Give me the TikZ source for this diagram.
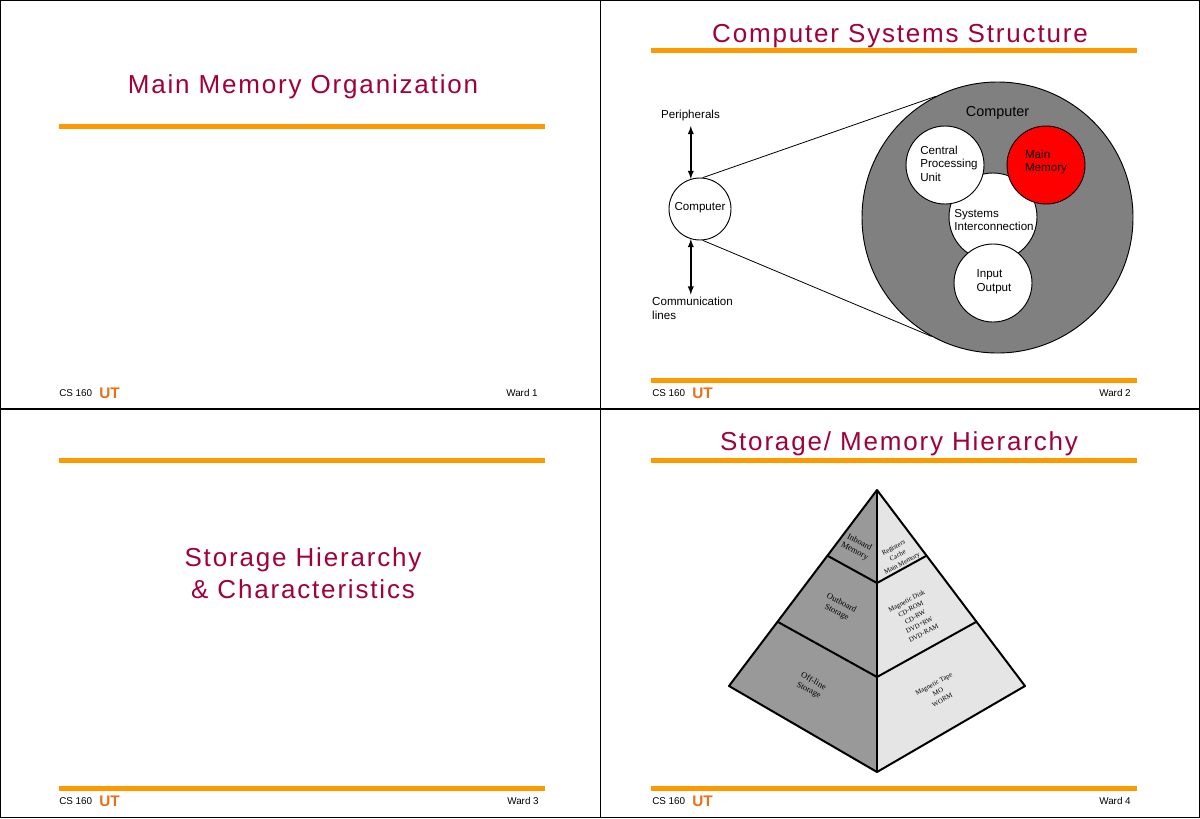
\documentclass[tikz,border=0pt]{standalone}
\usepackage{fontspec}
\setmainfont{Liberation Sans}
\newfontfamily\titlefont[LetterSpace=7]{Liberation Sans}
\newfontfamily\pyrfont{Liberation Serif}
\usepackage{xcolor}
\definecolor{titlered}{HTML}{A0003C}
\definecolor{barorange}{HTML}{FF9900}
\definecolor{logoorange}{HTML}{E8701A}
\tikzset{
  slidetitle/.style={font=\titlefont\fontsize{19.5}{24}\selectfont, text=titlered, align=center, inner sep=0pt},
  bar/.style={fill=barorange, draw=none},
  foot/.style={font=\fontsize{7.4}{9}\selectfont, inner sep=0pt},
  logo/.style={font=\bfseries\fontsize{11.5}{12}\selectfont, text=logoorange, inner sep=0pt},
  lab/.style={font=\fontsize{8.7}{10.2}\selectfont, align=left, inner sep=0pt},
  disc/.style={circle, draw, fill=white, line width=0.7pt, inner sep=0pt},
  pyrl/.style={font=\pyrfont\fontsize{6.4}{7.6}\selectfont, align=center, inner sep=0pt, rotate=-28},
  pyrr/.style={font=\pyrfont\fontsize{5.1}{6.8}\selectfont, align=center, inner sep=0pt, rotate=28},
  pyrline/.style={line width=1.5pt, line join=round}
}
\begin{document}
\begin{tikzpicture}[x=0.75pt,y=-0.75pt]
\useasboundingbox (0,0) rectangle (1200,818);
\fill[white] (0,0) rectangle (1200,818);
% slide frames
\draw[line width=0.9pt] (0.5,0.5) rectangle (1199.5,817.5);
\draw[line width=0.9pt] (600.5,0) -- (600.5,818);
\draw[line width=0.9pt] (0,409) -- (1200,409);

% orange bars
\fill[bar] (59,124) rectangle (545,129);
\fill[bar] (651,48) rectangle (1137,53);
\fill[bar] (651,378) rectangle (1137,383);
\fill[bar] (59,458) rectangle (545,462.5);
\fill[bar] (59,786) rectangle (545,790.5);
\fill[bar] (651,457.5) rectangle (1137,462.5);
\fill[bar] (651,786) rectangle (1137,790.5);

% titles
\node[slidetitle] (titleone) at (303,87) {Main Memory Organization};
\node[slidetitle] (titletwo) at (900,36) {Computer Systems Structure};
\node[slidetitle] (titlethree) at (303,573) {Storage Hierarchy\\[0pt]\& Characteristics};
\node[slidetitle] (titlefour) at (899,444) {Storage/ Memory Hierarchy};

% footers
\foreach \n/\xa/\xb/\yf in {1/59/538/393, 2/652/1131/393, 3/59/539/801, 4/652/1131/801} {
  \node[foot, anchor=west] (cs\n) at (\xa,\yf) {CS 160};
  \node[logo, anchor=west] (ut\n) at (\xa+40,\yf) {UT};
  \node[foot, anchor=east] (ward\n) at (\xb,\yf) {Ward \n};
}

% computer structure
\node[disc, minimum size=203.25pt, fill=black!50] (bigc) at (997.5,217.5) {};
\node[disc, minimum size=46.5pt] (comp) at (700,209) {};
\node[disc, minimum size=66pt] (sysi) at (993,217) {};
\node[disc, minimum size=58.5pt] (cpu) at (945,165) {};
\node[disc, minimum size=58.5pt, fill=red] (mem) at (1046,165) {};
\node[disc, minimum size=58.5pt] (inout) at (993,283) {};
\node[lab] (comptext) at (700,207.5) {Computer};
\node[lab] (cputext) at (949,163.5) {Central\\Processing\\Unit};
\node[lab] (memtext) at (1046,162) {Main\\Memory};
\node[lab] (sysitext) at (994,220) {Systems\\Interconnection};
\node[lab] (inouttext) at (994,282) {Input\\Output};
\node[lab, font=\fontsize{10.8}{13}\selectfont] (bigtitle) at (997.5,113) {Computer};
\node[lab] (periph) at (690.5,115) {Peripherals};
\node[lab] (lines) at (692.5,308.5) {Communication\\lines};
\draw[<->, >=latex, line width=1.1pt, shorten <=4pt] (periph.south -| comp.107) -- (comp.107);
\draw[<->, >=latex, line width=1.1pt, shorten <=2pt] (lines.north -| comp.253) -- (comp.253);
\draw[line width=0.6pt] (comp.85) -- (bigc.117);
\draw[line width=0.6pt] (comp.-85) -- (bigc.241);

% pyramid
\coordinate (apex) at (877,490);
\coordinate (pl) at (729,686);
\coordinate (pr) at (1025,686);
\coordinate (pb) at (877,772);
\coordinate (al) at (828,556);
\coordinate (am) at (877,583);
\coordinate (ar) at (926,556);
\coordinate (bl) at (778,622);
\coordinate (bm) at (877,677);
\coordinate (br) at (976,622);
\fill[black!40] (apex) -- (pl) -- (pb) -- cycle;
\fill[black!10] (apex) -- (pr) -- (pb) -- cycle;
\draw[pyrline] (apex) -- (pl) -- (pb) -- (pr) -- cycle;
\draw[pyrline] (apex) -- (pb);
\draw[pyrline] (al) -- (am) -- (ar);
\draw[pyrline] (bl) -- (bm) -- (br);
\node[pyrl] (inboard) at (857,547) {Inboard\\Memory};
\node[pyrl] (outboard) at (839,608) {Outboard\\Storage};
\node[pyrl] (offline) at (811,686) {Off-line\\Storage};
\node[pyrr] (regs) at (898,556) {Registers\\Cache\\Main Memory};
\node[pyrr] (disk) at (915,617) {Magnetic Disk\\CD-ROM\\CD-RW\\DVD+RW\\DVD-RAM};
\node[pyrr] (tape) at (938,692) {Magnetic Tape\\MO\\WORM};
\end{tikzpicture}
\end{document}
